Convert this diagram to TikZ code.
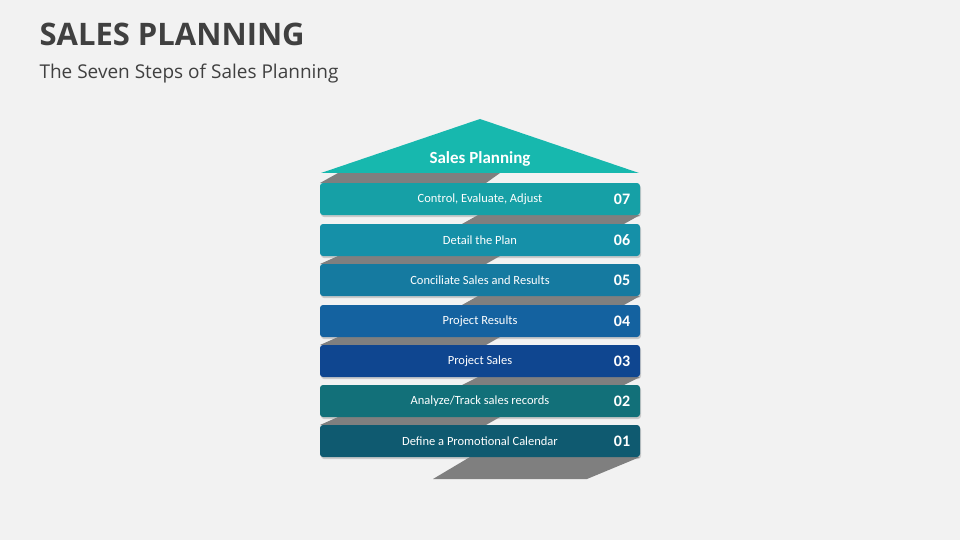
\documentclass[tikz,border=0pt]{standalone}
\usepackage{fontspec}
\setmainfont{Carlito}
\newfontfamily\titlefont{Open Sans}
\usetikzlibrary{shadows}
\definecolor{bg}{HTML}{F2F2F2}
\definecolor{tri}{HTML}{17B8AE}
\definecolor{ribbon}{HTML}{7F7F7F}
\definecolor{cA}{HTML}{16A0A6}
\definecolor{cB}{HTML}{1590A8}
\definecolor{cC}{HTML}{157AA0}
\definecolor{cD}{HTML}{1462A0}
\definecolor{cE}{HTML}{0F4690}
\definecolor{cF}{HTML}{127079}
\definecolor{cG}{HTML}{0F5A70}
\begin{document}
\begin{tikzpicture}[x=1pt,y=-1pt,
  barbox/.style={rounded corners=3pt,minimum width=320pt,minimum height=32pt,inner sep=0pt,
    drop shadow={shadow xshift=1pt,shadow yshift=-2pt,opacity=0.35}},
  bartext/.style={text=white,font=\fontsize{12.5}{14}\selectfont},
  numtext/.style={text=white,font=\fontsize{16}{18}\selectfont\bfseries}]
\fill[bg] (0,0) rectangle (960,540);
\useasboundingbox (0,0) rectangle (960,540);
\node[anchor=west,text=black!75,font=\titlefont\fontsize{31}{34}\selectfont\bfseries] (title) at (36,34) {SALES PLANNING};
\node[anchor=west,text=black!75,font=\titlefont\fontsize{19}{22}\selectfont] (sub) at (36,74) {The Seven Steps of Sales Planning};
% ribbons
\foreach \ya/\yb in {173/183,256/264,337/345,417/425}
  \fill[ribbon] (338,\ya) -- (500,\ya) -- (486,\yb) -- (320,\yb) -- cycle;
\foreach \ya/\yb in {215/224,296/305,377/385}
  \fill[ribbon] (478,\ya) -- (640,\ya) -- (624,\yb) -- (462,\yb) -- cycle;
\fill[ribbon] (470,457) -- (640,457) -- (587,479) -- (433,479) -- cycle;
% roof
\fill[tri] (321,173) -- (480,119) -- (639,173) -- cycle;
\node[text=white,font=\fontsize{17}{20}\selectfont\bfseries] (roof) at (480,159) {Sales Planning};
% bars
\foreach \i/\y/\c/\t in {07/199/cA/{Control, Evaluate, Adjust},06/240/cB/{Detail the Plan},05/280/cC/{Conciliate Sales and Results},04/321/cD/{Project Results},03/361/cE/{Project Sales},02/401/cF/{Analyze/Track sales records},01/441/cG/{Define a Promotional Calendar}}{
  \node[barbox,fill=\c] (bar\i) at (480,\y) {};
  \node[bartext] (lab\i) at (480,\y) {\t};
  \node[numtext] (num\i) at (622,\y) {\i};
}
\end{tikzpicture}
\end{document}
